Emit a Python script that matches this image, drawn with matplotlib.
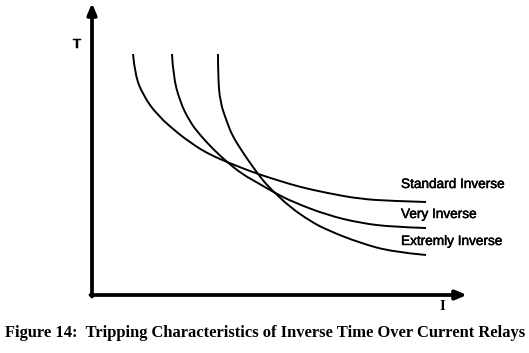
import matplotlib
matplotlib.use("Agg")
import matplotlib.pyplot as plt
from matplotlib.path import Path
from matplotlib.patches import PathPatch
import matplotlib.patheffects as pe

# Curves (I, T in arbitrary chart units, origin at axes corner)
std_I = [41, 43, 51, 65, 88, 98, 108, 121, 135, 150, 166, 188, 208, 235, 268, 301, 334]
std_T = [241, 220, 200, 180, 160, 153, 146, 139, 133, 127, 121, 114, 108, 102, 96, 94, 93]

very_I = [80, 81, 88, 98, 108, 121, 135, 150, 166, 183, 201, 235, 268, 301, 334]
very_T = [241, 220, 193, 173, 160, 146, 133, 121, 112, 102, 93, 80, 72, 68, 67]

ext_I = [126, 126, 128, 135, 140, 148, 156, 166, 174, 183, 198, 218, 235, 268, 301, 334]
ext_T = [241, 220, 193, 173, 160, 147, 135, 121, 111, 102, 88, 74, 65, 52, 43, 40]

labels = ["Standard Inverse", "Very Inverse", "Extremly Inverse"]
label_T = [111, 81, 54]
caption = "Figure 14:  Tripping Characteristics of Inverse Time Over Current Relays"


def smooth_path(xs, ys):
    """Quadratic-Bezier path using data points as control points."""
    verts = [(xs[0], ys[0])]
    codes = [Path.MOVETO]
    for i in range(1, len(xs) - 1):
        mx = (xs[i] + xs[i + 1]) / 2
        my = (ys[i] + ys[i + 1]) / 2
        if i == len(xs) - 2:
            mx, my = xs[-1], ys[-1]
        verts += [(xs[i], ys[i]), (mx, my)]
        codes += [Path.CURVE3, Path.CURVE3]
    return Path(verts, codes)


W, H = 529, 353
fig = plt.figure(figsize=(W / 100, H / 100), dpi=100)
x0, y0 = 92, 295
xlen, ylen = 375, 292
ax = fig.add_axes([x0 / W, (H - y0) / H, xlen / W, ylen / H])
ax.set_xlim(0, xlen)
ax.set_ylim(0, ylen)
ax.axis("off")

for I, T in [(std_I, std_T), (very_I, very_T), (ext_I, ext_T)]:
    ax.add_patch(PathPatch(smooth_path(I, T), facecolor="none", edgecolor="black",
                           lw=1.4, capstyle="butt"))

arrow = dict(arrowstyle="-|>,head_length=0.65,head_width=0.27", color="black", lw=2.7,
             shrinkA=0, shrinkB=0)
ax.annotate("", xy=(xlen, 0), xytext=(-1.5, 0), arrowprops=arrow, annotation_clip=False)
ax.annotate("", xy=(0, ylen), xytext=(0, -1.5), arrowprops=arrow, annotation_clip=False)

thick = [pe.withStroke(linewidth=0.35, foreground="black")]
for lab, t in zip(labels, label_T):
    ax.text(309, t, lab, fontsize=9.8, family="Liberation Sans", va="center", ha="left",
            clip_on=False, path_effects=thick)

ax.text(-15, 250, "T", fontsize=9, family="Liberation Sans", va="center", ha="center",
        clip_on=False, path_effects=thick)
ax.text(350, -11, "I", fontsize=10.5, family="Liberation Serif", fontweight="bold",
        va="center", ha="center", clip_on=False)

fig.text(265 / W, 1 - 333 / H, caption, fontsize=11.9, family="Liberation Serif",
         fontweight="bold", ha="center", va="center")

fig.savefig("out.png", dpi=100, facecolor="white")
